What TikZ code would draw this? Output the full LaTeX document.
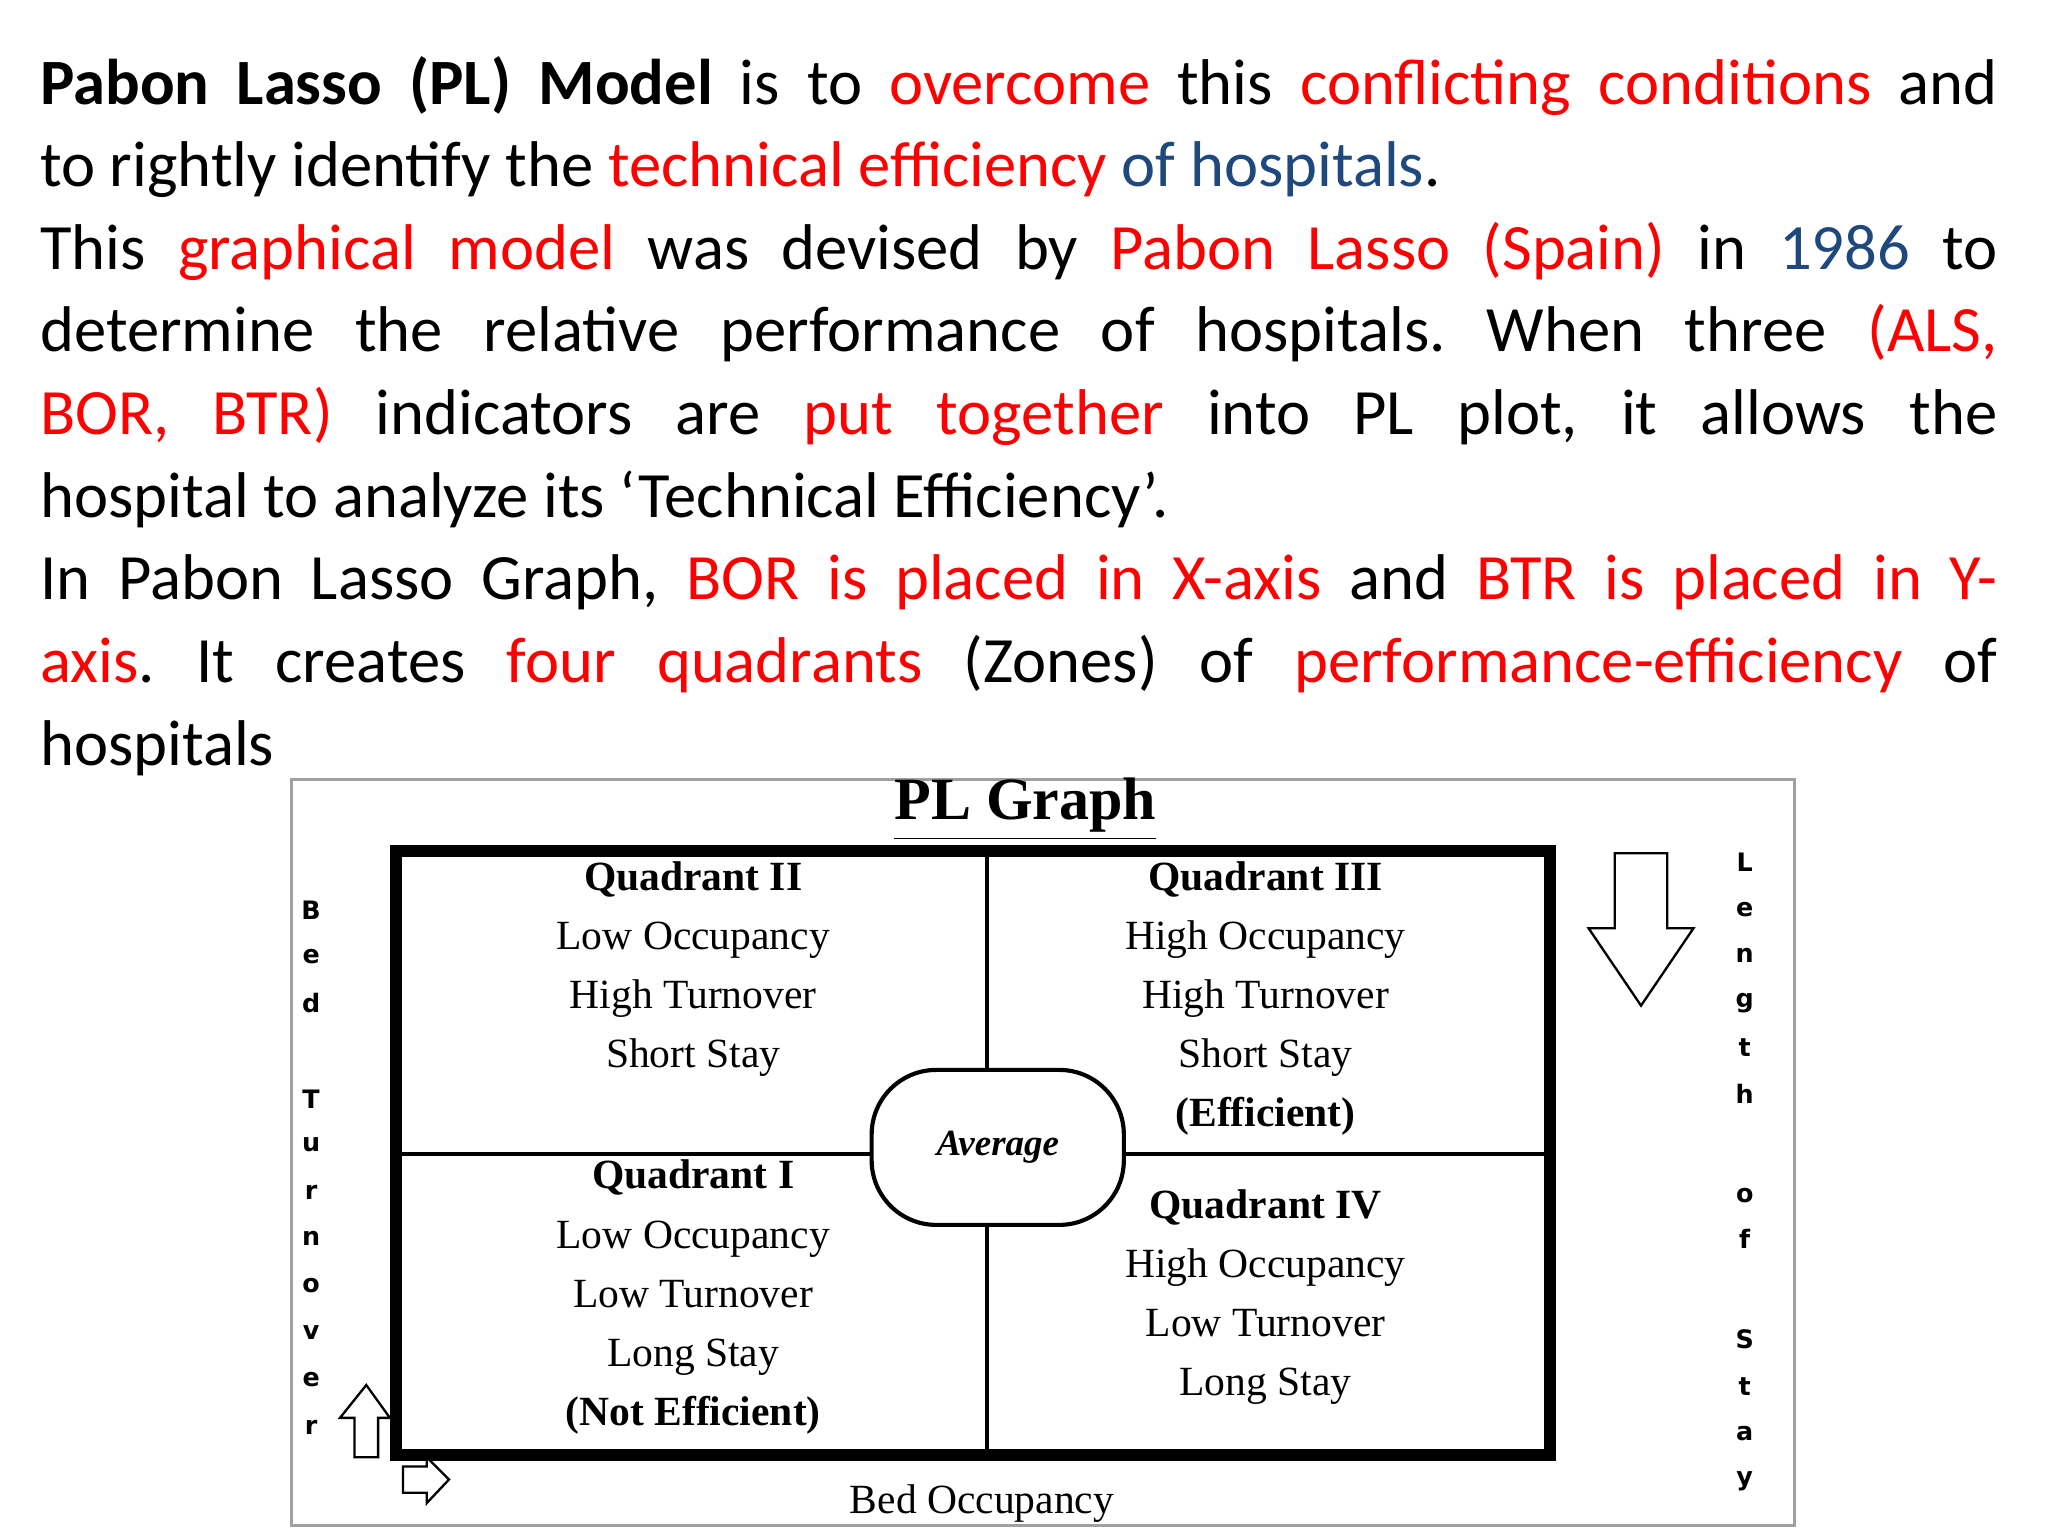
\documentclass[tikz,border=0pt]{standalone}
\usepackage{fontspec}
\setmainfont{Carlito}
\newfontfamily\gserif{Liberation Serif}
\newfontfamily\axf{DejaVu Sans}
\usepackage{xcolor}
\definecolor{rd}{RGB}{255,0,0}
\definecolor{bl}{RGB}{31,73,125}
\definecolor{frame}{RGB}{160,160,160}
\newcommand{\R}[1]{\textcolor{rd}{#1}}
\newcommand{\B}[1]{\textcolor{bl}{#1}}
\frenchspacing
\begin{document}
\begin{tikzpicture}[x=0.01cm,y=-0.01cm,
  qt/.style={font=\gserif\fontsize{9}{11}\selectfont,align=center,anchor=base},
  ax/.style={font=\axf\bfseries\fontsize{5.5}{7}\selectfont,anchor=center},
  harrow/.style={draw,fill=white,line width=0.5pt}]
\useasboundingbox (0,0) rectangle (1560,1170);
\node[anchor=north west,inner sep=0pt,text width=14.9cm,align=justify,
  font=\fontsize{14}{17.9}\selectfont] (para) at (30,42) {%
\textbf{Pabon Lasso (PL) Model} is to \R{overcome} this \R{conflicting conditions} and\linebreak
to rightly identify the \R{technical efficiency} \B{of hospitals}.\par
This \R{graphical model} was devised by \R{Pabon Lasso (Spain)} in \B{1986} to\linebreak
determine the relative performance of hospitals. When three \R{(ALS,}\linebreak
\R{BOR, BTR)} indicators are \R{put together} into PL plot, it allows the\linebreak
hospital to analyze its `Technical Efficiency'.\par
In Pabon Lasso Graph, \R{BOR is placed in X-axis} and \R{BTR is placed in Y-}\linebreak
\R{axis}. It creates \R{four quadrants} (Zones) of \R{performance-efficiency} of\linebreak
hospitals};
% frame
\draw[frame,line width=0.6pt] (222,594) rectangle (1367,1162);
\node[font=\gserif\bfseries\fontsize{13}{15}\selectfont,anchor=base] (title) at (781,624) {\underline{PL Graph}};
\draw[line width=2.6pt] (302,648) rectangle (1181,1108);
\coordinate (vt) at (752,648); \coordinate (vb) at (752,1108);
\coordinate (hl) at (302,879); \coordinate (hr) at (1181,879);
\draw[line width=0.8pt] (vt) -- (vb) (hl) -- (hr);
\node[draw,fill=white,rounded corners=14pt,line width=0.9pt,minimum width=1.92cm,minimum height=1.18cm,
  font=\gserif\bfseries\itshape\fontsize{8}{10}\selectfont] (avg) at (760,874) {Average};
% quadrants
\node[qt] (q2) at (528,678) {\textbf{Quadrant II}};
\node[qt] (q2a) at (528,723) {Low Occupancy};
\node[qt] (q2b) at (528,768) {High Turnover};
\node[qt] (q2c) at (528,813) {Short Stay};
\node[qt] (q3) at (964,678) {\textbf{Quadrant III}};
\node[qt] (q3a) at (964,723) {High Occupancy};
\node[qt] (q3b) at (964,768) {High Turnover};
\node[qt] (q3c) at (964,813) {Short Stay};
\node[qt] (q3d) at (964,858) {\textbf{(Efficient)}};
\node[qt] (q1) at (528,905) {\textbf{Quadrant I}};
\node[qt] (q1a) at (528,951) {Low Occupancy};
\node[qt] (q1b) at (528,996) {Low Turnover};
\node[qt] (q1c) at (528,1041) {Long Stay};
\node[qt] (q1d) at (528,1086) {\textbf{(Not Efficient)}};
\node[qt] (q4) at (964,928) {\textbf{Quadrant IV}};
\node[qt] (q4a) at (964,973) {High Occupancy};
\node[qt] (q4b) at (964,1018) {Low Turnover};
\node[qt] (q4c) at (964,1063) {Long Stay};
\node[qt] (bo) at (748,1153) {Bed Occupancy};
% axis letters
\foreach \c/\y [count=\i] in {B/693,e/729,d/764,T/837,u/872,r/908,n/943,o/979,v/1015,e/1051,r/1087}
  \node[ax] (l\i) at (237,\y) {\c};
\foreach \c/\y [count=\i] in {L/657,e/693,n/728,g/764,t/798,h/833,o/911,f/944,S/1020,t/1056,a/1092,y/1128}
  \node[ax] (r\i) at (1329,\y) {\c};
% arrows
\draw[harrow] (1230,650) -- (1270,650) -- (1270,707) -- (1290,707) -- (1250,766) -- (1210,707) -- (1230,707) -- cycle;
\draw[harrow] (270,1110) -- (288,1110) -- (288,1080) -- (297,1080) -- (279,1055) -- (259,1080) -- (270,1080) -- cycle;
\draw[harrow] (307,1117) -- (325,1117) -- (325,1110) -- (342,1127) -- (325,1145) -- (325,1137) -- (307,1137) -- cycle;
\end{tikzpicture}
\end{document}
